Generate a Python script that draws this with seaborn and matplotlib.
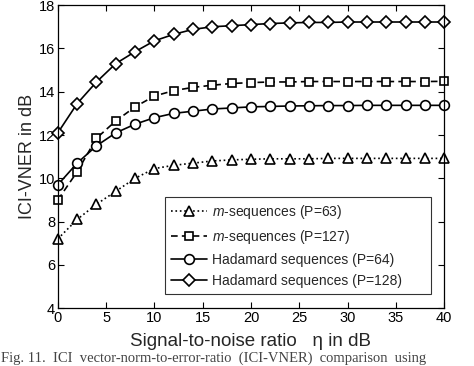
import numpy as np
import pandas as pd
import seaborn as sns
import matplotlib
matplotlib.use('Agg')
import matplotlib.pyplot as plt

# SNR grid (dB)
snr = [0, 2, 4, 6, 8, 10, 12, 14, 16, 18, 20, 22, 24, 26, 28, 30, 32, 34, 36, 38, 40]

m_seq_63 = [7.2, 8.1, 8.8, 9.4, 10.0, 10.45, 10.6, 10.7, 10.8, 10.85, 10.88,
            10.9, 10.9, 10.9, 10.92, 10.92, 10.92, 10.92, 10.92, 10.92, 10.92]
m_seq_127 = [9.0, 10.3, 11.85, 12.65, 13.3, 13.8, 14.05, 14.2, 14.3, 14.38, 14.42,
             14.45, 14.45, 14.47, 14.47, 14.47, 14.47, 14.47, 14.47, 14.47, 14.48]
hadamard_64 = [9.7, 10.7, 11.5, 12.1, 12.5, 12.8, 13.0, 13.1, 13.2, 13.25, 13.3,
               13.32, 13.34, 13.35, 13.36, 13.36, 13.37, 13.37, 13.37, 13.37, 13.37]
hadamard_128 = [12.1, 13.45, 14.45, 15.3, 15.85, 16.35, 16.65, 16.88, 17.0, 17.05, 17.1,
                17.15, 17.18, 17.2, 17.2, 17.22, 17.22, 17.22, 17.22, 17.22, 17.22]

labels = ['$m$-sequences (P=63)', '$m$-sequences (P=127)',
          'Hadamard sequences (P=64)', 'Hadamard sequences (P=128)']

df = pd.DataFrame({'snr': snr, 'm63': m_seq_63, 'm127': m_seq_127,
                   'h64': hadamard_64, 'h128': hadamard_128})

sns.set_style('ticks')
plt.rcParams['font.family'] = ['Liberation Sans', 'DejaVu Sans']
plt.rcParams['mathtext.fontset'] = 'custom'
plt.rcParams['mathtext.it'] = 'Liberation Sans:italic'
plt.rcParams['mathtext.rm'] = 'Liberation Sans'

fig = plt.figure(figsize=(4.74, 3.66), dpi=100)
ax = fig.add_axes([0.122, 0.158, 0.815, 0.828])

# (column, marker, linestyle, markersize)
styles = [('m63', '^', ':', 7.5), ('m127', 's', (0, (4, 2.5)), 6),
          ('h64', 'o', '-', 7), ('h128', 'D', '-', 6.5)]
for (col, mk, ls, ms), lab in zip(styles, labels):
    sns.lineplot(data=df, x='snr', y=col, ax=ax, color='black', marker=mk,
                 linestyle=ls, linewidth=1.2, markersize=ms, markerfacecolor='white',
                 markeredgecolor='black', markeredgewidth=1.2, label=lab, clip_on=False)

ax.set_xlim(0, 40)
ax.set_ylim(4, 18)
ax.set_xticks(range(0, 41, 5))
ax.set_yticks(range(4, 19, 2))
ax.tick_params(direction='in', top=True, right=True, labelsize=10.5, length=4,
               width=0.8, colors='black', pad=2)
for s in ax.spines.values():
    s.set_linewidth(0.9)
    s.set_color('black')

ax.set_xlabel('Signal-to-noise ratio   η in dB', fontsize=13.5, labelpad=6)
ax.set_ylabel('ICI-VNER in dB', fontsize=13, labelpad=2)

leg = ax.legend(loc='lower left', fontsize=10, frameon=True, fancybox=False,
                handlelength=2.6, borderpad=0.45, labelspacing=0.5,
                bbox_to_anchor=(0.277, 0.046, 0.689, 0.3), mode='expand',
                handletextpad=0.35, borderaxespad=0)
leg.get_frame().set_edgecolor('black')
leg.get_frame().set_linewidth(0.8)

fig.text(0.003, 0.012,
         'Fig. 11.  ICI  vector-norm-to-error-ratio  (ICI-VNER)  comparison  using',
         family='Liberation Serif', fontsize=10.5, color='#444444')

fig.savefig('out.png', dpi=100)
